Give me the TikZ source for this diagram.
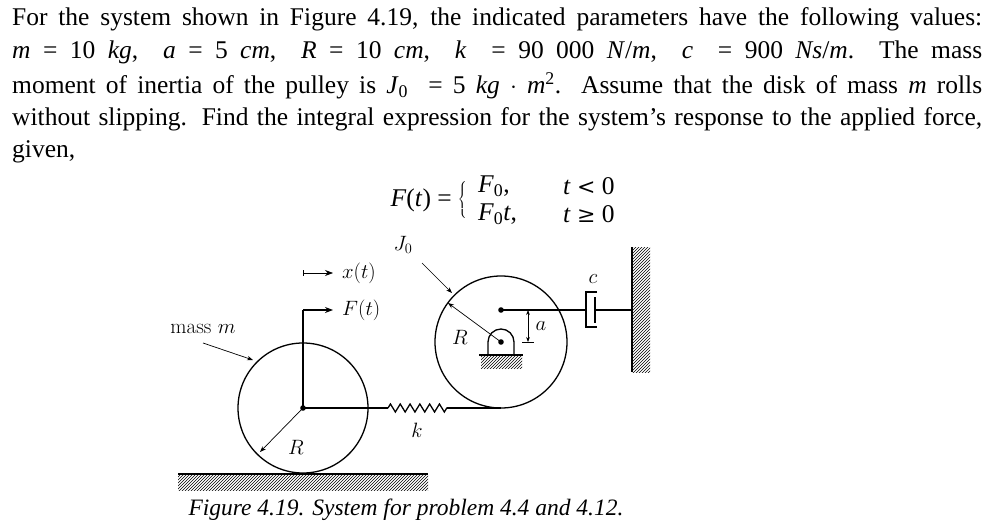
\documentclass[tikz,border=0pt]{standalone}
\usepackage{fontspec}
\setmainfont{Liberation Serif}
\newfontfamily\lmr{Latin Modern Roman}
\usetikzlibrary{patterns,decorations.pathmorphing,arrows.meta}
\begin{document}
\begin{tikzpicture}[x=1pt,y=-1pt,
  ln/.style={line width=1.3pt},
  thin/.style={line width=0.7pt},
  lbl/.style={font=\fontsize{21}{21}\selectfont,inner sep=0pt},
  hatch/.style={pattern=north east lines},
  para/.style={anchor=west,inner sep=0pt,font=\fontsize{25.5}{30}\selectfont}]
\useasboundingbox (0,0) rectangle (994,532);
% paragraph
\node[para] (l1) at (12,19) {\makebox[970pt][s]{For the system shown in Figure 4.19, the indicated parameters have the following values:}};
\node[para] (l2) at (12,52) {\makebox[970pt][s]{\textit{m} = 10 \textit{kg},\ \ \textit{a} = 5 \textit{cm},\ \ \textit{R} = 10 \textit{cm},\ \ \textit{k} \ = 90 000 \textit{N}/\textit{m},\ \ \textit{c} \ = 900 \textit{Ns}/\textit{m}.\ \ The mass}};
\node[para] (l3) at (12,86) {\makebox[970pt][s]{moment of inertia of the pulley is \textit{J}\textsubscript{0} \ = 5 \textit{kg} $\cdot$ \textit{m}\textsuperscript{2}. Assume that the disk of mass \textit{m} rolls}};
\node[para] (l4) at (12,119) {\makebox[970pt][s]{without slipping. Find the integral expression for the system's response to the applied force,}};
\node[para] (l5) at (12,152) {given,};
% equation
\node[para,anchor=east] (eqa) at (452,200) {\textit{F}(\textit{t}) =};
\node[para,anchor=center,font=\fontsize{25.5}{30}\selectfont] (brace) at (463,200) {$\left\{\vphantom{\rule{0pt}{24pt}}\right.$};
\node[para] (e1) at (478,186) {\textit{F}\textsubscript{0},};
\node[para] (e2) at (478,214) {\textit{F}\textsubscript{0}\textit{t},};
\node[para] (e3) at (563,186) {\textit{t} {\fontspec{DejaVu Serif}\fontsize{22}{22}\selectfont <} 0};
\node[para] (e4) at (563,214) {\textit{t} {\fontspec{DejaVu Serif}\fontsize{22}{22}\selectfont ≥} 0};
% ground
\fill[hatch] (178,474) rectangle (428,490);
\draw[ln] (178,474) -- (428,474);
% left disk
\coordinate (c1) at (303,408);
\draw[ln] (c1) circle (65);
\fill (c1) circle (2.8);
\draw[ln] (c1) -- (303,310) coordinate (ft);
\draw[ln,-{Stealth[length=8pt]}] (ft) -- (333,310);
\node[lbl,anchor=west] (Fl) at (342,310) {$F(t)$};
\draw[thin,|-{Stealth[length=8pt]}] (303,273) -- (333,273);
\node[lbl,anchor=west] (xl) at (342,273) {$x(t)$};
\draw[thin,-{Stealth[length=6pt]}] (c1) -- (260,452);
\node[lbl] (R1) at (296,447) {$R$};
\node[lbl] (mm) at (203,329) {\lmr mass $m$};
\draw[thin,-{Stealth[length=6pt]}] (203,343) -- (253,360);
% spring
\coordinate (c2) at (501,342);
\draw[ln] (c1) -- (388,408);
\draw[ln,decorate,decoration={zigzag,segment length=9.8pt,amplitude=4pt}] (388,408) -- (447,408);
\draw[ln] (447,408) -- (501,408);
\node[lbl] (kl) at (417,430) {$k$};
% right disk
\draw[ln] (c2) circle (66);
\fill[hatch] (481,355) rectangle (522,368);
\draw[ln] (479,355) -- (523,355);
\draw[ln] (488,355) -- (488,342) arc (180:360:13) -- (514,355);
\fill (c2) circle (2.8);
\draw[thin,-{Stealth[length=6pt]}] (c2) -- (448,303);
\node[lbl] (R2) at (460,337) {$R$};
\node[lbl] (J0) at (403,245) {$J_0$};
\draw[thin,-{Stealth[length=6pt]}] (422,263) -- (452,293);
% upper dot and damper
\fill (501,310) circle (2.8);
\draw[ln] (501,310) -- (586,310);
\draw[ln] (597,292) -- (586,292) -- (586,327) -- (597,327);
\draw[ln] (595,297) -- (595,323);
\draw[ln] (595,310) -- (632,310);
\node[lbl] (cl) at (593,279) {$c$};
% wall
\fill[hatch] (632,247) rectangle (650,372);
\draw[ln] (632,247) -- (632,372);
% a dimension
\draw[thin,{Stealth[length=5pt]}-{Stealth[length=5pt]}] (528,310) -- (528,342);
\draw[thin] (522,342) -- (534,342);
\node[lbl] (al) at (541,326) {$a$};
% caption
\node[para,anchor=center] (cap) at (406,510) {\fontsize{23.5}{26}\selectfont\textit{Figure 4.19. System for problem 4.4 and 4.12.}};
\end{tikzpicture}
\end{document}
